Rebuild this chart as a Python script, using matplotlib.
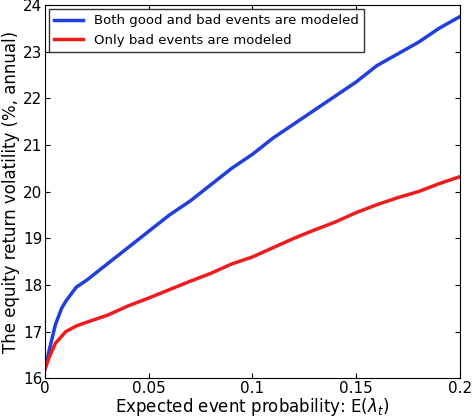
import matplotlib
matplotlib.use("Agg")
import matplotlib.pyplot as plt

x = [0, 0.002, 0.005, 0.008, 0.01, 0.015, 0.02, 0.03, 0.04, 0.05, 0.06, 0.07, 0.08, 0.09, 0.1, 0.11, 0.12, 0.13, 0.14, 0.15, 0.16, 0.17, 0.18, 0.19, 0.2]
blue = [16.2, 16.6, 17.15, 17.5, 17.65, 17.95, 18.1, 18.45, 18.8, 19.15, 19.5, 19.8, 20.15, 20.5, 20.8, 21.15, 21.45, 21.75, 22.05, 22.35, 22.7, 22.95, 23.2, 23.5, 23.75]
red = [16.2, 16.45, 16.75, 16.9, 17.0, 17.12, 17.2, 17.35, 17.55, 17.72, 17.9, 18.08, 18.25, 18.45, 18.6, 18.8, 19.0, 19.18, 19.35, 19.55, 19.72, 19.87, 20.0, 20.17, 20.32]

fig = plt.figure(figsize=(4.74, 4.18), dpi=100)
ax = fig.add_axes([0.095, 0.095, 0.875, 0.893])
ax.plot(x, blue, color="#1f3fe0", lw=2.5, label="Both good and bad events are modeled")
ax.plot(x, red, color="#ee1c1c", lw=2.5, label="Only bad events are modeled")
ax.set_xlim(0, 0.2)
ax.set_ylim(16, 24)
ax.set_xticks([0, 0.05, 0.1, 0.15, 0.2])
ax.set_xticklabels(["0", "0.05", "0.1", "0.15", "0.2"])
ax.tick_params(labelsize=11, direction="in", top=True, right=True, pad=2)
ax.set_xlabel(r"Expected event probability: E($\lambda_t$)", fontsize=12, labelpad=0)
ax.set_ylabel("The equity return volatility (%, annual)", fontsize=12, labelpad=2)
ax.legend(loc="upper left", fontsize=9.5, fancybox=False, edgecolor="black",
          borderaxespad=0.3, handlelength=2.2)
fig.savefig("out.png", dpi=100)
